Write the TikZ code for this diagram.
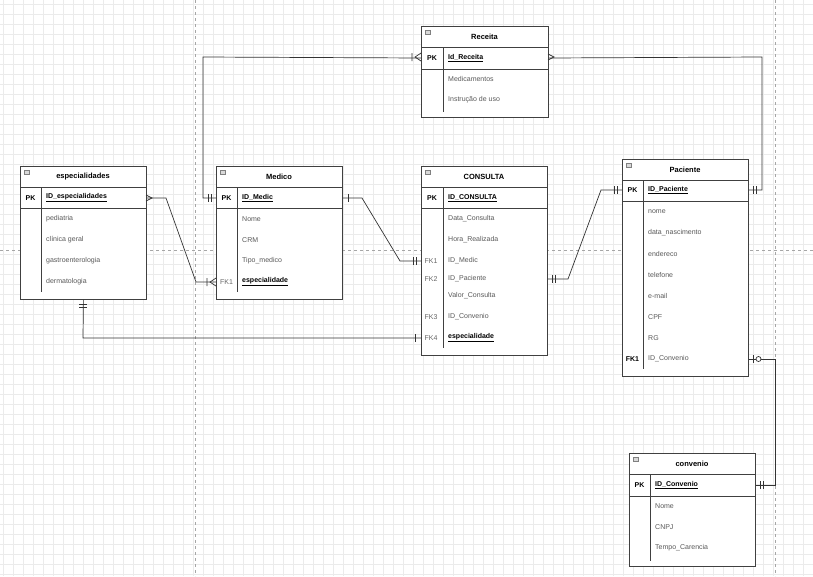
\documentclass[tikz,border=0pt]{standalone}
\usepackage{fontspec}
\setmainfont{Liberation Sans}
\begin{document}
\begin{tikzpicture}[x=1pt,y=-1pt,
  tbl/.style={draw=black!75,line width=0.8pt,fill=white},
  hd/.style={font=\fontsize{7.5}{9}\selectfont\bfseries},
  att/.style={anchor=west,font=\fontsize{7}{9}\selectfont,text=black!65,inner sep=0},
  key/.style={font=\fontsize{7}{9}\selectfont\bfseries,inner sep=0},
  fk/.style={font=\fontsize{7}{9}\selectfont,text=black!60,inner sep=0},
  pk/.style={anchor=west,font=\fontsize{7}{9}\selectfont\bfseries,inner sep=0},
  con/.style={draw=black!80,line width=0.7pt},
]
\newcommand\mkdbar[3]{\draw[con] (#1+#3*5,#2-4) -- ++(0,8) (#1+#3*8,#2-4) -- ++(0,8);}
\newcommand\mkbar[3]{\draw[con] (#1+#3*6,#2-4) -- ++(0,8);}
\newcommand\mkcrow[3]{\draw[con] (#1+#3*9,#2-4) -- ++(0,8) (#1,#2-4) -- (#1+#3*6,#2) -- (#1,#2+4);}
\newcommand\mksmallcrow[3]{\draw[con] (#1,#2-3) -- (#1+#3*6,#2) -- (#1,#2+3);}
\useasboundingbox (0,0) rectangle (813,576);
\fill[white] (0,0) rectangle (813,576);
\foreach \i in {0,10,...,810} \draw[black!8,line width=0.4pt] (\i+3,0) -- (\i+3,576);
\foreach \i in {0,10,...,570} \draw[black!8,line width=0.4pt] (0,\i+4) -- (813,\i+4);
\draw[black!35,dashed,line width=0.5pt] (195,0) -- (195,576) (775,0) -- (775,576) (0,250) -- (813,250);

% Receita
\node[tbl,minimum width=127pt,minimum height=91pt,anchor=north west,inner sep=0] (rec) at (421,26) {};
\draw[black!75,line width=0.8pt] (421,47) -- (548,47) (421,69) -- (548,69) (443,47) -- (443,112);
\node[hd] (recH) at (484.5,37) {Receita};
\node[key] (recK) at (432,58) {PK};
\node[pk] (recPK) at (448,58) {\underline{Id\_Receita}};
\node[att] (rec1) at (448,79) {Medicamentos};
\node[att] (rec2) at (448,100) {Instrução de uso};

% especialidades
\node[tbl,minimum width=126pt,minimum height=133pt,anchor=north west,inner sep=0] (esp) at (20,166) {};
\draw[black!75,line width=0.8pt] (20,187) -- (146,187) (20,208) -- (146,208) (41,187) -- (41,292);
\node[hd] (espH) at (83,177) {especialidades};
\node[key] (espK) at (30.5,198) {PK};
\node[pk] (espPK) at (46,198) {\underline{ID\_especialidades}};
\node[att] (esp1) at (46,219) {pediatria};
\node[att] (esp2) at (46,240) {clínica geral};
\node[att] (esp3) at (46,261) {gastroenterologia};
\node[att] (esp4) at (46,282) {dermatologia};

% Medico
\node[tbl,minimum width=126pt,minimum height=133pt,anchor=north west,inner sep=0] (med) at (216,166) {};
\draw[black!75,line width=0.8pt] (216,187) -- (342,187) (216,208) -- (342,208) (237,187) -- (237,292);
\node[hd] (medH) at (279,177) {Medico};
\node[key] (medK) at (226.5,198) {PK};
\node[pk] (medPK) at (242,198) {\underline{ID\_Medic}};
\node[att] (med1) at (242,219) {Nome};
\node[att] (med2) at (242,240) {CRM};
\node[att] (med3) at (242,261) {Tipo\_medico};
\node[fk] (medF) at (226.5,282) {FK1};
\node[pk] (med4) at (242,282) {\underline{especialidade}};

% CONSULTA
\node[tbl,minimum width=126pt,minimum height=189pt,anchor=north west,inner sep=0] (con) at (421,166) {};
\draw[black!75,line width=0.8pt] (421,187) -- (547,187) (421,208) -- (547,208) (443,187) -- (443,348);
\node[hd] (conH) at (484,177) {CONSULTA};
\node[key] (conK) at (432,198) {PK};
\node[pk] (conPK) at (448,198) {\underline{ID\_CONSULTA}};
\node[att] (con1) at (448,219) {Data\_Consulta};
\node[att] (con2) at (448,240) {Hora\_Realizada};
\node[fk] (conF1) at (431,261) {FK1};
\node[att] (con3) at (448,261) {ID\_Medic};
\node[fk] (conF2) at (431,279) {FK2};
\node[att] (con4) at (448,279) {ID\_Paciente};
\node[att] (con5) at (448,296) {Valor\_Consulta};
\node[fk] (conF3) at (431,317) {FK3};
\node[att] (con6) at (448,317) {ID\_Convenio};
\node[fk] (conF4) at (431,338) {FK4};
\node[pk] (con7) at (448,338) {\underline{especialidade}};

% Paciente
\node[tbl,minimum width=126pt,minimum height=217pt,anchor=north west,inner sep=0] (pac) at (622,159) {};
\draw[black!75,line width=0.8pt] (622,180) -- (748,180) (622,201) -- (748,201) (643,180) -- (643,369);
\node[hd] (pacH) at (685,170) {Paciente};
\node[key] (pacK) at (632.5,190) {PK};
\node[pk] (pacPK) at (648,190) {\underline{ID\_Paciente}};
\node[att] (pac1) at (648,212) {nome};
\node[att] (pac2) at (648,233) {data\_nascimento};
\node[att] (pac3) at (648,254) {endereco};
\node[att] (pac4) at (648,275) {telefone};
\node[att] (pac5) at (648,296) {e-mail};
\node[att] (pac6) at (648,317) {CPF};
\node[att] (pac7) at (648,338) {RG};
\node[key] (pacF) at (632.5,359) {FK1};
\node[att] (pac8) at (648,359) {ID\_Convenio};

% convenio
\node[tbl,minimum width=126pt,minimum height=113pt,anchor=north west,inner sep=0] (cvn) at (629,453) {};
\draw[black!75,line width=0.8pt] (629,474) -- (755,474) (629,496) -- (755,496) (650,474) -- (650,561);
\node[hd] (cvnH) at (692,464) {convenio};
\node[key] (cvnK) at (639.5,485) {PK};
\node[pk] (cvnPK) at (655,485) {\underline{ID\_Convenio}};
\node[att] (cvn1) at (655,506) {Nome};
\node[att] (cvn2) at (655,527) {CNPJ};
\node[att] (cvn3) at (655,548) {Tempo\_Carencia};

% header icons
\foreach \x/\y in {424/29,23/169,219/169,424/169,625/162,632/456}
  \draw[black!50,fill=black!15,line width=0.4pt] (\x+1,\y+1) rectangle (\x+6,\y+5);

% connectors
\coordinate (c1) at (203,57); \coordinate (c2) at (203,198);
\draw[con] (rec.west |- recK) -- (c1) -- (c2) -- (med.west |- medK);
\mkcrow{421}{57}{-1} \mkdbar{216}{198}{-1}
\coordinate (c3) at (762,57); \coordinate (c4) at (762,190);
\draw[con] (rec.east |- recK) -- (c3) -- (c4) -- (pac.east |- pacK);
\mksmallcrow{548}{57}{1} \mkdbar{748}{190}{1}
\coordinate (c5) at (166,198); \coordinate (c6) at (196,282);
\draw[con] (esp.east |- espK) -- (c5) -- (c6) -- (med.west |- medF);
\mksmallcrow{146}{198}{1} \mkcrow{216}{282}{-1}
\coordinate (c7) at (362,198); \coordinate (c8) at (400,261);
\draw[con] (med.east |- medK) -- (c7) -- (c8) -- (con.west |- conF1);
\mkbar{342}{198}{1} \mkdbar{421}{261}{-1}
\coordinate (c9) at (568,279); \coordinate (c10) at (601,190);
\draw[con] (con.east |- conF2) -- (c9) -- (c10) -- (pac.west |- pacK);
\mkdbar{547}{279}{1} \mkdbar{622}{190}{-1}
\coordinate (c11) at (83,338);
\draw[con] (esp.south) -- (c11) -- (con.west |- conF4);
\draw[con] (79,304) -- ++(8,0) (79,307) -- ++(8,0);
\mkbar{421}{338}{-1}
\coordinate (c12) at (775,359); \coordinate (c13) at (775,485);
\draw[con] (pac.east |- pacF) -- (c12) -- (c13) -- (cvn.east |- cvnK);
\draw[con] (753,355) -- ++(0,8); \draw[con,fill=white] (758.5,359) circle (2.5pt);
\mkdbar{755}{485}{1}
\end{tikzpicture}
\end{document}
